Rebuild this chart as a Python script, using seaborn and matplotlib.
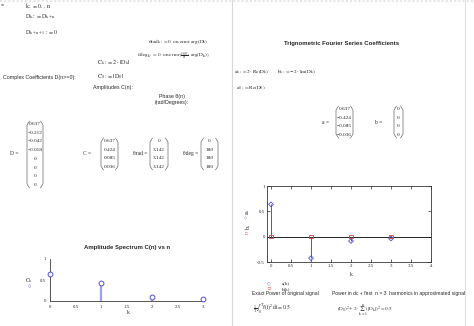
import numpy as np
import pandas as pd
import matplotlib
matplotlib.use("Agg")
import matplotlib.pyplot as plt
import seaborn as sns
from matplotlib.lines import Line2D

# ---------------- data ----------------
k_vals = [0, 1, 2, 3]
D_vals = ["0.637", "\u22120.212", "\u22120.042", "\u22120.018", "0", "0", "0", "0"]
C_vals = [0.637, 0.424, 0.085, 0.036]
C_labels = ["0.637", "0.424", "0.085", "0.036"]
th_rad = ["0", "3.142", "3.142", "3.142"]
th_deg = ["0", "180", "180", "180"]
a_vals = [0.637, -0.424, -0.085, -0.036]
a_labels = ["0.637", "\u22120.424", "\u22120.085", "\u22120.036"]
b_vals = [0, 0, 0, 0]
b_labels = ["0", "0", "0", "0"]
x_ticks1 = [0, 0.5, 1, 1.5, 2, 2.5, 3, 3.5, 4]
y_ticks1 = [-0.5, 0, 0.5, 1]
x_ticks2 = [0, 0.5, 1, 1.5, 2, 2.5, 3]
y_ticks2 = [0, 0.5, 1]

sns.set_theme(style="white")
plt.rcParams["font.family"] = ["Liberation Sans", "DejaVu Sans"]
plt.rcParams["mathtext.fontset"] = "stix"

W, H = 474, 326
fig = plt.figure(figsize=(W / 100, H / 100), dpi=100)
fig.patch.set_facecolor("white")

def T(x, y, s, size=4.3, ha="left", serif=True, **kw):
    fam = ["Liberation Serif", "DejaVu Serif"] if serif else ["Liberation Sans", "DejaVu Sans"]
    fig.text(x / W, 1 - y / H, s, ha=ha, va="center", fontsize=size, family=fam, **kw)

def L(xs, ys, color="black", lw=0.5, **kw):
    fig.add_artist(Line2D([x / W for x in xs], [1 - y / H for y in ys],
                          transform=fig.transFigure, color=color, lw=lw, **kw))

def matrix(xl, xr, top, bot, entries):
    L([xl + 2.5, xl, xl, xl + 2.5], [top, top + 4, bot - 4, bot], lw=0.4, color="#444444")
    L([xr - 2.5, xr, xr, xr - 2.5], [top, top + 4, bot - 4, bot], lw=0.4, color="#444444")
    n = len(entries)
    step = (bot - top - 6) / (n - 1) if n > 1 else 0
    for i, e in enumerate(entries):
        T((xl + xr) / 2, top + 3 + i * step, e, size=3.8, ha="center")

# separators / border
L([232, 232], [0, 326], color="#d8d8d8", lw=0.8)
L([465, 465], [0, 326], color="#e0e0e0", lw=0.8)
L([0, 474], [1, 1], color="#e6e6e6", lw=1.5, ls=(0, (1, 1)))
T(1, 6, "\u2261", size=4, color="#777777")

# ---- left worksheet text ----
T(25, 5, r"$\mathrm{k} := 0\,..\,\mathrm{n}$")
T(25, 17, r"$\mathrm{D}_{\mathrm{k}} := \mathrm{D}_{\mathrm{k+n}}$")
T(25, 33, r"$\mathrm{D}_{\mathrm{k+n+1}} := 0$")
T(148, 42, r"$\theta\mathrm{rad}_{\mathrm{k}} := 0\ \ \mathrm{on\ error}\ \mathrm{arg}(\mathrm{D}_{\mathrm{k}})$", size=3.8)
T(137, 56, r"$\theta\mathrm{deg}_{\mathrm{k}} := 0\ \ \mathrm{on\ error}\left(\frac{180}{\pi}\cdot\mathrm{arg}(\mathrm{D}_{\mathrm{k}})\right)$", size=3.8)
T(97, 63, r"$\mathrm{C}_{\mathrm{k}} := 2\cdot\left|\mathrm{D}_{\mathrm{k}}\right|$")
T(97, 77, r"$\mathrm{C}_{0} := \left|\mathrm{D}_{0}\right|$")
T(3, 77, "Complex Coefficients D(n>=0):", serif=False, size=3.8)
T(113, 87, "Amplitudes C(n):", serif=False, size=3.8, ha="center")
T(172, 96, "Phase \u03b8(n)", serif=False, size=3.8, ha="center")
T(172, 103, "(rad/Degrees):", serif=False, size=3.8, ha="center")

T(10, 154, "D =", size=4)
matrix(27, 43, 121, 188, D_vals)
T(83, 154, "C =", size=4)
matrix(101, 118, 138, 170, C_labels)
T(133, 154, "\u03b8rad =", size=4)
matrix(150, 168, 138, 170, th_rad)
T(183, 154, "\u03b8deg =", size=4)
matrix(201, 218, 138, 170, th_deg)

# ---- right worksheet text ----
T(342, 43, "Trignometric Fourier Series Coefficients", serif=False, size=4.3, ha="center", weight="bold")
T(234, 72, r"$\mathrm{a}_{\mathrm{k}} := 2\cdot\mathrm{Re}(\mathrm{D}_{\mathrm{k}})$", size=3.8)
T(277, 72, r"$\mathrm{b}_{\mathrm{k}} := -2\cdot\mathrm{Im}(\mathrm{D}_{\mathrm{k}})$", size=3.8)
T(236, 88, r"$\mathrm{a}_{0} := \mathrm{Re}(\mathrm{D}_{0})$", size=3.8)
T(322, 123, "a =", size=4)
matrix(336, 353, 106, 138, a_labels)
T(375, 123, "b =", size=4)
matrix(394, 403, 106, 138, b_labels)

T(252, 294, "Exact Power of original signal", serif=False, size=3.6)
T(332, 294, "Power in dc + first  n = 3  harmonics in approximated signal", serif=False, size=3.6)
T(253, 309, r"$\frac{1}{\mathrm{T}}\int_{0}^{\mathrm{T}} \mathrm{f(t)}^{2}\,\mathrm{dt} = 0.5$", size=4)
T(337, 310, r"$(\mathrm{D}_{0})^{2} + 2\cdot\sum_{\mathrm{k}=1}^{\mathrm{n}}\left(\left|\mathrm{D}_{\mathrm{k}}\right|\right)^{2} = 0.5$", size=3.7)

serif = ["Liberation Serif", "DejaVu Serif"]
blue = "#5050d8"
red = "#e04040"

# ---- plot 1: a(k), b(k) ----
ax1 = fig.add_axes([267 / W, 1 - 262 / H, (431 - 267) / W, (262 - 186) / H])
ab = pd.DataFrame({"k": k_vals, "a": a_vals, "b": b_vals})
ax1.axhline(0, color="black", lw=0.6, zorder=1)
ax1.vlines(ab["k"], 0, ab["a"], color=blue, lw=0.7, zorder=2)
sns.scatterplot(data=ab, x="k", y="a", ax=ax1, marker="D", s=6, facecolor="none",
                edgecolor=blue, linewidth=0.6, zorder=3)
sns.scatterplot(data=ab, x="k", y="b", ax=ax1, marker="s", s=6, facecolor="none",
                edgecolor=red, linewidth=0.6, zorder=3)
ax1.set_xlim(-0.1, 4)
ax1.set_ylim(-0.5, 1)
ax1.set_xticks(x_ticks1)
ax1.set_yticks(y_ticks1)
ax1.set_xticklabels([f"{v:g}" for v in x_ticks1], family=serif)
ax1.set_yticklabels([f"{v:g}" for v in y_ticks1], family=serif)
ax1.tick_params(direction="in", length=2, width=0.5, labelsize=3.5, pad=1.5,
                top=True, right=True, bottom=True, left=True)
for sp in ax1.spines.values():
    sp.set_color("#333333")
    sp.set_linewidth(0.6)
ax1.set_xlabel("")
ax1.set_ylabel("")
T(350, 274, "k", size=4)
T(248, 212, r"$\mathrm{a}_{\mathrm{k}}$", size=4, ha="center", rotation=90)
T(246, 219, "\u25c7", size=3, ha="center", color=blue)
T(248, 227, r"$\mathrm{b}_{\mathrm{k}}$", size=4, ha="center", rotation=90)
T(246, 234, "\u25a1", size=3, ha="center", color=red)
T(269, 283, "\u25c7", size=3.5, ha="center", color=blue)
T(269, 289, "\u25a1", size=3.5, ha="center", color=red)
T(282, 283, "a(k)", size=3.6)
T(282, 289, "b(k)", size=3.6)

# ---- plot 2: amplitude spectrum ----
ax2 = fig.add_axes([50 / W, 1 - 301 / H, (203 - 50) / W, (301 - 259) / H])
cdf = pd.DataFrame({"k": k_vals, "C": C_vals})
ax2.vlines(cdf["k"][:1], 0, cdf["C"][:1], color="#202080", lw=1.2, zorder=2)
ax2.vlines(cdf["k"][1:], 0, cdf["C"][1:], color="#a0a0f0", lw=1.6, zorder=2)
sns.scatterplot(data=cdf, x="k", y="C", ax=ax2, marker="o", s=12, facecolor="white",
                edgecolor=blue, linewidth=0.7, zorder=3, clip_on=False)
ax2.set_xlim(0, 3)
ax2.set_ylim(0, 1)
ax2.set_xticks(x_ticks2)
ax2.set_yticks(y_ticks2)
ax2.set_xticklabels([f"{v:g}" for v in x_ticks2], family=serif)
ax2.set_yticklabels([f"{v:g}" for v in y_ticks2], family=serif)
ax2.tick_params(direction="inout", length=2.5, width=0.5, labelsize=3.5, pad=1.5)
for side in ["top", "right"]:
    ax2.spines[side].set_visible(False)
for side in ["left", "bottom"]:
    ax2.spines[side].set_color("#555555")
    ax2.spines[side].set_linewidth(0.7)
ax2.set_xlabel("")
ax2.set_ylabel("")
ax2.set_facecolor("none")
T(127, 247, "Amplitude Spectrum C(n) vs n", serif=False, size=4.3, ha="center", weight="bold")
T(128, 312, "k", size=4, ha="center")
T(29, 281, r"$\mathrm{C}_{\mathrm{k}}$", size=4, ha="center")
T(29, 287, "\u25cb", size=4, ha="center", color=blue)

fig.savefig("out.png", dpi=100, facecolor="white")
